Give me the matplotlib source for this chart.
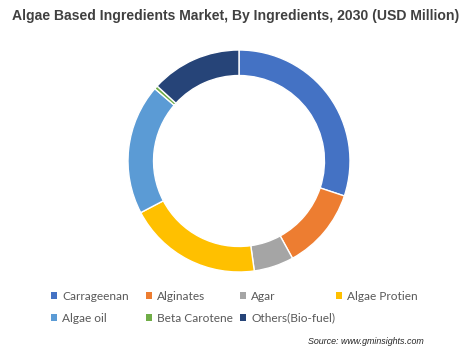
import matplotlib.pyplot as plt
from matplotlib.patches import Patch

ingredients = ['Carrageenan', 'Alginates', 'Agar', 'Algae Protien',
               'Algae oil', 'Beta Carotene', 'Others(Bio-fuel)']
share = [30.1, 11.9, 5.8, 19.5, 19.0, 0.5, 13.2]
colors = ['#4472C4', '#ED7D31', '#A5A5A5', '#FFC000',
          '#5B9BD5', '#70AD47', '#264478']

W, H = 474, 354
fig = plt.figure(figsize=(W / 100, H / 100), dpi=100)

# donut centre ~ (239, 161) px, radius ~111 px
R = 111
cx, cy = 239, 161
ax = fig.add_axes([(cx - R) / W, 1 - (cy + R) / H, 2 * R / W, 2 * R / H])
ax.pie(share, colors=colors, startangle=90, counterclock=False, radius=1.0,
       wedgeprops=dict(width=0.23, edgecolor='white', linewidth=1.0))
ax.set_xlim(-1.0, 1.0)
ax.set_ylim(-1.0, 1.0)
ax.set_aspect('equal')
ax.axis('off')

fig.text(0.498, 0.956, 'Algae Based Ingredients Market, By Ingredients, 2030 (USD Million)',
         ha='center', va='center', fontsize=10.05, fontweight='bold',
         color='#404040', family='Liberation Sans')

# legend laid out like excel: 4 equal columns, filled row by row
handles = [Patch(facecolor=c, edgecolor='none') for c in colors]
col_x = [51, 146, 240, 336]
for col in range(4):
    idx = [i for i in range(len(ingredients)) if i % 4 == col]
    leg = fig.legend([handles[i] for i in idx], [ingredients[i] for i in idx],
                     loc='upper left', bbox_to_anchor=(col_x[col] / W, 1 - 291 / H),
                     frameon=False, borderpad=0, borderaxespad=0,
                     handlelength=0.5, handleheight=0.5, handletextpad=0.45,
                     labelspacing=0.9, prop={'family': 'Lato', 'size': 8.6})
    for t in leg.get_texts():
        t.set_color('#595959')

fig.text(0.893, 0.034, 'Source: www.gminsights.com', ha='right', va='center',
         fontsize=6.4, style='italic', color='#262626', family='Liberation Sans')

fig.savefig('out.png', dpi=100)
